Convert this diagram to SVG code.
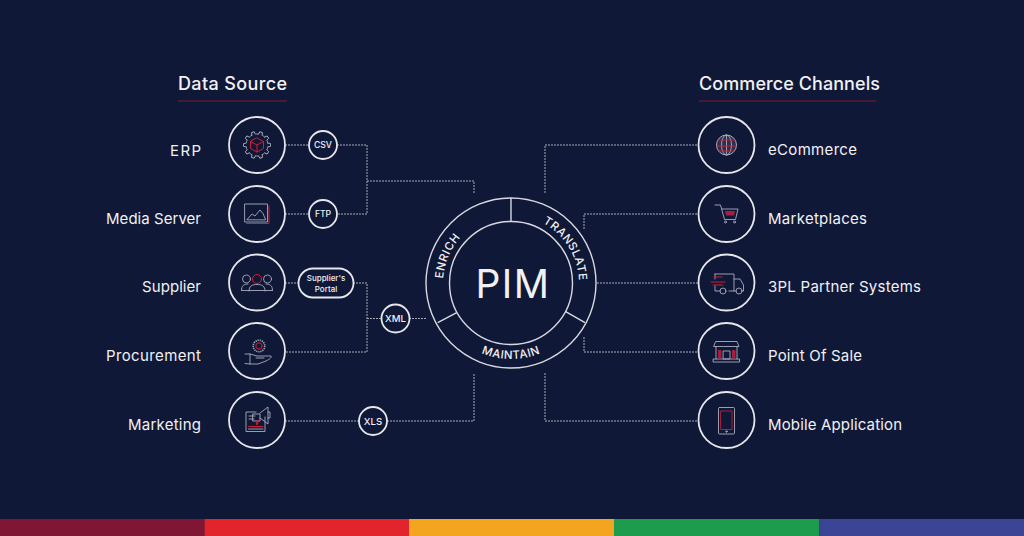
<svg xmlns="http://www.w3.org/2000/svg" xmlns:xlink="http://www.w3.org/1999/xlink" width="1024" height="536" viewBox="0 0 1024 536">
<style>
text{font-family:Inter,"Liberation Sans",sans-serif;fill:#f1f1f4}
.title{font-size:18px;font-weight:500}
.label{font-size:15px;font-weight:400}
.tag{font-size:8.6px;font-weight:500;text-anchor:middle}
.tag2{font-size:9.6px;font-weight:500;text-anchor:middle}
.arc{font-size:11.4px;font-weight:500;text-anchor:middle;letter-spacing:.55px}
.ring{fill:none;stroke:#e6e6eb;stroke-width:1.8}
.pim{fill:none;stroke:#d8d9e0;stroke-width:1.4}
.conn{fill:none;stroke:#a6a9b6;stroke-width:1;stroke-dasharray:2 1}
.ic{fill:none;stroke:#a9acbb;stroke-width:.9;stroke-linejoin:round;stroke-linecap:round}
.rd{fill:none;stroke:#d01f32;stroke-width:1;stroke-linejoin:round;stroke-linecap:round}
.fillr{fill:#a81d3c;stroke:none}
.under{stroke:#7c1a33;stroke-width:1}
</style>
<defs>
<path id="arcTop" d="M443,283 A68,68 0 0 1 579,283"/>
<path id="arcBot" d="M435,283 A76,76 0 0 0 587,283"/>
<path id="tooth" d="M11,-1.8 L13.5,-1.4 L13.5,1.4 L11,1.8"/>
<g id="gear">
<circle r="11" fill="none" stroke="#a9acbb" stroke-width=".9" stroke-dasharray="3.31 3.6" stroke-dashoffset="-1.8"/>
<use href="#tooth" class="ic"/>
<use href="#tooth" class="ic" transform="rotate(36)"/>
<use href="#tooth" class="ic" transform="rotate(72)"/>
<use href="#tooth" class="ic" transform="rotate(108)"/>
<use href="#tooth" class="ic" transform="rotate(144)"/>
<use href="#tooth" class="ic" transform="rotate(180)"/>
<use href="#tooth" class="ic" transform="rotate(216)"/>
<use href="#tooth" class="ic" transform="rotate(252)"/>
<use href="#tooth" class="ic" transform="rotate(288)"/>
<use href="#tooth" class="ic" transform="rotate(324)"/>
</g>
</defs>
<rect width="1024" height="536" fill="#101838"/>
<g id="footer">
<rect x="0" y="519" width="204.500" height="17" fill="#7f1734"/>
<rect x="204.500" y="519" width="204.500" height="17" fill="#e2242c"/>
<rect x="409" y="519" width="205" height="17" fill="#f4a51f"/>
<rect x="614" y="519" width="205.500" height="17" fill="#1c9c4c"/>
<rect x="819.500" y="519" width="204.500" height="17" fill="#3c4595"/>
</g>
<g id="connectors">
<path class="conn" d="M285,145H310"/>
<path class="conn" d="M337,145H367V214H337"/>
<path class="conn" d="M285,214H309"/>
<path class="conn" d="M367,181H474V194"/>
<path class="conn" d="M285,283H298"/>
<path class="conn" d="M353,283H367V352H285"/>
<path class="conn" d="M367,318.500H382"/>
<path class="conn" d="M409,318.500H426"/>
<path class="conn" d="M285,421H359"/>
<path class="conn" d="M387,421H474V373"/>
<path class="conn" d="M545,193V145H698"/>
<path class="conn" d="M584,229V214H698"/>
<path class="conn" d="M597,283H698"/>
<path class="conn" d="M584,337V352H698"/>
<path class="conn" d="M545,373V421H698"/>
</g>
<g id="title-source">
<text class="title" x="178" y="90" textLength="109" lengthAdjust="spacing">Data Source</text>
<line class="under" x1="178" y1="101" x2="287" y2="101"/>
</g>
<g id="title-channels">
<text class="title" x="699" y="90" textLength="181" lengthAdjust="spacing">Commerce Channels</text>
<line class="under" x1="699" y1="101" x2="876" y2="101"/>
</g>
<g id="pim">
<circle class="pim" cx="511" cy="283" r="85"/>
<circle class="pim" cx="511" cy="283" r="61.500"/>
<path class="pim" d="M511,198V222M437.700,322.700L456.700,312.700M585,322.700L565.700,311.700"/>
<text x="475.500" y="298" font-size="39" font-weight="400" textLength="73.500" lengthAdjust="spacing">PIM</text>
<text class="arc" transform="rotate(-67 511 283)"><textPath href="#arcTop" startOffset="50%">ENRICH</textPath></text>
<text class="arc" transform="rotate(58 511 283)"><textPath href="#arcTop" startOffset="50%">TRANSLATE</textPath></text>
<text class="arc"><textPath href="#arcBot" startOffset="50%">MAINTAIN</textPath></text>
</g>
<g id="node-csv"><circle class="ring" cx="323" cy="145" r="14"/><text class="tag" x="323" y="148">CSV</text></g>
<g id="node-ftp"><circle class="ring" cx="323" cy="214" r="14"/><text class="tag" x="323" y="217">FTP</text></g>
<g id="node-portal"><rect class="ring" x="298.500" y="268.500" width="55" height="29" rx="14.500"/><text class="tag" style="font-size:8px" x="326" y="281">Supplier's</text><text class="tag" style="font-size:8px" x="326" y="292">Portal</text></g>
<g id="node-xml"><circle class="ring" cx="395.500" cy="318.500" r="14"/><text class="tag2" x="395.500" y="322">XML</text></g>
<g id="node-xls"><circle class="ring" cx="373" cy="421" r="14"/><text class="tag2" x="373" y="424.500">XLS</text></g>
<g id="node-erp">
<circle class="ring" cx="257" cy="145" r="28"/>
<text class="label" x="201" y="155.500" text-anchor="end" textLength="31" lengthAdjust="spacing">ERP</text>
<use href="#gear" x="257" y="145"/>
<path class="rd" d="M257,138L263.500,141.500V148.500L257,152L250.500,148.500V141.500ZM250.500,141.500L257,145L263.500,141.500M257,145V152"/>
</g>
<g id="node-media">
<circle class="ring" cx="257" cy="214" r="28"/>
<text class="label" x="201" y="224" text-anchor="end" textLength="95" lengthAdjust="spacing">Media Server</text>
<path class="rd" d="M246.500,223.500H269V206" stroke-width="1.300"/>
<rect class="ic" x="245" y="204" width="22.500" height="18"/>
<path class="ic" d="M247,219.500L252,214L255,216L260,210L263,213.500L265.500,219.500Z"/>
</g>
<g id="node-supplier">
<circle class="ring" cx="257" cy="282.500" r="28"/>
<text class="label" x="201" y="292" text-anchor="end" textLength="59" lengthAdjust="spacing">Supplier</text>
<circle class="ic" cx="246.500" cy="279" r="4"/>
<circle class="ic" cx="267.500" cy="279" r="4"/>
<path class="ic" d="M241.500,290.500C241.500,285.500 244,284 248,284M272.500,290.500C272.500,285.500 270,284 266,284M241.500,290.500H272.500"/>
<path class="ic" d="M249,291C249,286 252,284.500 257,284.500C262,284.500 265,286 265,291"/>
<circle class="rd" cx="257" cy="279" r="4.500"/>
</g>
<g id="node-procurement">
<circle class="ring" cx="257" cy="351" r="28"/>
<text class="label" x="201" y="360.500" text-anchor="end" textLength="95" lengthAdjust="spacing">Procurement</text>
<circle cx="259" cy="346" r="5.800" fill="none" stroke="#a9acbb" stroke-width="1.600" stroke-dasharray="1.200 .9"/>
<circle class="rd" cx="259" cy="346" r="3.200" stroke-width="1.200"/>
<path class="ic" d="M245,354H250L257,356H264L271,356C272,357 270,359 266,361L258,364H250L245,363.500M250,354V364M256,358H264"/>
</g>
<g id="node-marketing">
<circle class="ring" cx="257" cy="420" r="28"/>
<text class="label" x="201" y="429.500" text-anchor="end" textLength="73" lengthAdjust="spacing">Marketing</text>
<path class="ic" d="M256,412H246V431.500H265V417"/>
<path class="ic" d="M249,416H255M249,419H254"/>
<path class="ic" d="M253,414H260V421H253ZM260,413L268,407V424L260,418M268,412H270V418H268"/>
<path class="rd" d="M248.500,426.500H263M256,421L257,425L259,420"/>
<path class="ic" d="M248.500,429H263"/>
</g>
<g id="node-ecommerce">
<circle class="ring" cx="726.500" cy="145" r="28"/>
<text class="label" x="768" y="155" textLength="89" lengthAdjust="spacing">eCommerce</text>
<circle cx="726.500" cy="145" r="10" fill="#2a3050" stroke="#a9acbb"/>
<ellipse class="ic" cx="726.500" cy="145" rx="5" ry="10"/>
<path class="ic" d="M726.500,135V155"/>
<path class="rd" d="M718,140H735M717,146H736M719,151H734"/>
</g>
<g id="node-marketplaces">
<circle class="ring" cx="726.500" cy="214" r="28"/>
<text class="label" x="768" y="224" textLength="99" lengthAdjust="spacing">Marketplaces</text>
<path class="ic" d="M715,205H720.500L724.500,219.500H735.500L738,209H722"/>
<path class="fillr" d="M725,211H735L734,215.500H726Z"/>
<circle class="ic" cx="725.500" cy="222" r="1"/>
<circle class="ic" cx="734.500" cy="222" r="1"/>
</g>
<g id="node-3pl">
<circle class="ring" cx="726.500" cy="282.500" r="28"/>
<text class="label" x="768" y="292" textLength="153" lengthAdjust="spacing">3PL Partner Systems</text>
<path class="ic" d="M715,274H734V291H729M720,291H715V286M734,279H740L743.500,285V291H742M734,291H736M715,279V274"/>
<circle class="ic" cx="723" cy="291" r="3"/>
<circle class="ic" cx="739" cy="291" r="3"/>
<path class="rd" d="M714,277H722M711,282H725M713,285H723"/>
</g>
<g id="node-pos">
<circle class="ring" cx="726.500" cy="351" r="28"/>
<text class="label" x="768" y="360.500" textLength="94" lengthAdjust="spacing">Point Of Sale</text>
<path class="ic" d="M716,341.500H737L739,346.500H714ZM716,346.500V359M737,346.500V359M713.500,359H739.500V362H713.500Z"/>
<path class="ic" d="M723.500,351H730V359H723.500Z"/>
<path class="fillr" d="M718,350H721.500V358.500H718ZM732,350H735.500V358.500H732Z"/>
</g>
<g id="node-mobile">
<circle class="ring" cx="726.500" cy="420" r="28"/>
<text class="label" x="768" y="429.500" textLength="134" lengthAdjust="spacing">Mobile Application</text>
<rect class="ic" x="718.500" y="407.500" width="16" height="26.500" rx="1"/>
<rect class="rd" x="721" y="411" width="11" height="18.500" stroke-width="1.200" style="stroke:#b01d3a"/>
<circle class="ic" cx="726.500" cy="431.500" r=".8"/>
</g>
</svg>
